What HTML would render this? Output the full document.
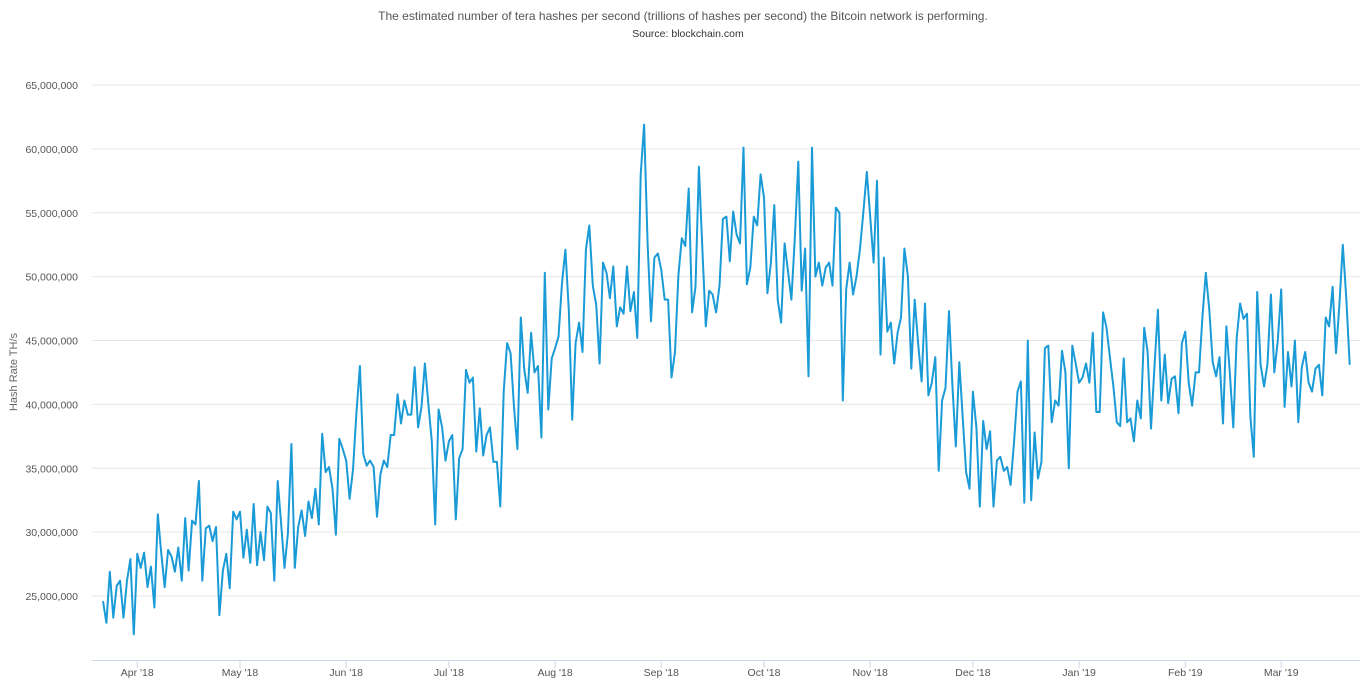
<!DOCTYPE html>
<html><head><meta charset="utf-8"><style>
html,body{margin:0;padding:0;background:#fff;}
svg{display:block;font-family:"Liberation Sans",Arial,sans-serif;}
</style></head><body>
<svg id="chart" width="1366" height="689" viewBox="0 0 1366 689" xmlns="http://www.w3.org/2000/svg">
<text x="683" y="20" text-anchor="middle" font-size="12" fill="#555">The estimated number of tera hashes per second (trillions of hashes per second) the Bitcoin network is performing.</text>
<text x="688" y="37" text-anchor="middle" font-size="10.5" fill="#333">Source: blockchain.com</text>
<text transform="translate(17,372) rotate(-90)" text-anchor="middle" font-size="11" fill="#666">Hash Rate TH/s</text>
<g id="grid"></g>
<g id="yticks"></g>
<g id="xticks"></g>
<g id="series"></g>
</svg>
<script>
const startDate = [2018, 2, 22];
const hashRateMillions = [
24.6,22.9,26.9,23.3,25.8,26.2,23.3,26.2,27.9,22.0,
28.3,27.2,28.4,25.7,27.3,24.1,31.4,28.4,25.7,28.6,
28.1,26.9,28.8,26.2,31.1,27.0,30.9,30.6,34.0,26.2,
30.3,30.5,29.3,30.4,23.5,27.0,28.3,25.6,31.6,31.0,
31.6,28.0,30.2,27.6,32.2,27.4,30.0,27.8,32.0,31.5,
26.2,34.0,30.7,27.2,29.9,36.9,27.2,30.4,31.7,29.7,
32.4,31.1,33.4,30.6,37.7,34.7,35.1,33.4,29.8,37.3,36.5,
35.6,32.6,34.9,39.3,43.0,36.1,35.2,35.6,35.1,31.2,
34.5,35.6,35.1,37.6,37.6,40.8,38.5,40.3,39.2,39.2,
42.9,38.2,39.8,43.2,40.0,37.1,30.6,39.6,38.2,35.6,
37.1,37.6,31.0,35.8,36.5,42.7,41.7,42.1,36.3,39.7,
36.0,37.6,38.2,35.5,35.5,32.0,41.0,44.8,44.0,
39.8,36.5,46.8,42.7,40.9,45.6,42.5,43.0,37.4,50.3,
39.6,43.6,44.4,45.3,49.5,52.1,47.4,38.8,44.8,46.4,
44.1,52.1,54.0,49.3,47.8,43.2,51.1,50.3,48.3,50.8,
46.1,47.6,47.1,50.8,47.3,48.8,45.2,58.0,61.9,52.6,
46.5,51.5,51.8,50.5,48.2,48.2,42.1,44.1,50.1,53.0,
52.4,56.9,47.2,49.2,58.6,52.1,46.1,48.9,48.6,47.2,
49.3,54.5,54.7,51.2,55.1,53.3,52.6,60.1,49.4,50.7,
54.7,54.0,58.0,56.2,48.7,51.1,55.6,48.2,46.4,52.6,
50.4,48.2,53.0,59.0,48.9,52.2,42.2,60.1,50.0,51.1,
49.3,50.7,51.1,49.3,55.4,55.0,40.3,49.0,51.1,48.6,
50.0,52.1,55.0,58.2,54.7,51.1,57.5,43.9,51.5,45.7,
46.4,43.2,45.6,46.8,52.2,50.0,42.8,48.2,44.8,41.8,
47.9,40.7,41.7,43.7,34.8,40.3,41.3,47.3,41.5,36.7,43.3,
39.0,34.7,33.4,41.0,38.2,32.0,38.7,36.5,37.9,32.0,
35.6,35.9,34.8,35.1,33.7,37.0,41.0,41.8,32.3,45.0,
32.5,37.8,34.2,35.5,44.4,44.6,38.6,40.3,39.9,44.2,
42.5,35.0,44.6,43.2,41.7,42.1,43.2,41.7,45.6,39.4,
39.4,47.2,46.0,43.7,41.4,38.6,38.3,43.6,38.6,38.9,
37.1,40.3,38.9,46.0,44.1,38.1,43.0,47.4,40.3,43.9,
40.1,42.0,42.2,39.3,44.8,45.7,41.7,39.9,42.5,42.5,
46.8,50.3,47.4,43.3,42.2,43.7,38.5,46.1,42.5,38.2,
45.2,47.9,46.7,47.1,39.0,35.9,48.8,43.1,41.4,43.2,
48.6,42.5,45.0,49.0,39.8,44.1,41.4,45.0,38.6,42.9,
44.1,41.7,41.0,42.8,43.1,40.7,46.8,46.1,49.2,44.0,
47.8,52.5,48.3,43.1
];
const yTickValues = [25000000,30000000,35000000,40000000,45000000,50000000,55000000,60000000,65000000];
const xTickLabels = ["Apr '18","May '18","Jun '18","Jul '18","Aug '18","Sep '18","Oct '18","Nov '18","Dec '18","Jan '19","Feb '19","Mar '19"];
const xTickMonths = [[2018,3],[2018,4],[2018,5],[2018,6],[2018,7],[2018,8],[2018,9],[2018,10],[2018,11],[2019,0],[2019,1],[2019,2]];

const NS = "http://www.w3.org/2000/svg";
const DAY = 86400000;
const t0 = Date.UTC(startDate[0], startDate[1], startDate[2]);
const plotLeft = 92, plotRight = 1360, axisY = 660;
function xScale(ms){ return 103 + (ms - t0) / DAY * 3.425; }
function yScale(v){ return 596 - (v - 25000000) / 1000000 * 12.775; }
function mk(tag, attrs){ const e = document.createElementNS(NS, tag); for (const k in attrs) e.setAttribute(k, attrs[k]); return e; }

const grid = document.getElementById('grid');
const yt = document.getElementById('yticks');
yTickValues.forEach(v => {
  const y = yScale(v);
  const l = mk('line', {x1: plotLeft, x2: plotRight, y1: y, y2: y, stroke: '#e6e6e6', 'stroke-width': 1});
  
  
  grid.appendChild(l);
  const t = mk('text', {x: 78, y: y + 4, 'text-anchor': 'end', 'font-size': 10.5, fill: '#555'});
  
  
  t.textContent = v.toLocaleString('en-US');
  yt.appendChild(t);
});
const axis = mk('line', {x1: plotLeft, x2: plotRight, y1: axisY + 0.5, y2: axisY + 0.5, stroke: '#ccd6eb', 'stroke-width': 1});


grid.appendChild(axis);

const xt = document.getElementById('xticks');
xTickLabels.forEach((lab, i) => {
  const x = xScale(Date.UTC(xTickMonths[i][0], xTickMonths[i][1], 1));
  const tk = mk('line', {x1: x, x2: x, y1: axisY, y2: axisY + 8, stroke: '#ccd6eb', 'stroke-width': 1});
  
  
  xt.appendChild(tk);
  const t = mk('text', {x: x, y: 676, 'text-anchor': 'middle', 'font-size': 10.5, fill: '#555'});
  
  
  t.textContent = lab;
  xt.appendChild(t);
});

const pts = hashRateMillions.map((v, i) => xScale(t0 + i * DAY).toFixed(1) + ',' + yScale(v * 1000000).toFixed(1)).join(' ');
const line = mk('polyline', {points: pts, fill: 'none', stroke: '#1a9bd7', 'stroke-width': 2, 'stroke-linejoin': 'round'});


document.getElementById('series').appendChild(line);
</script>
</body></html>
